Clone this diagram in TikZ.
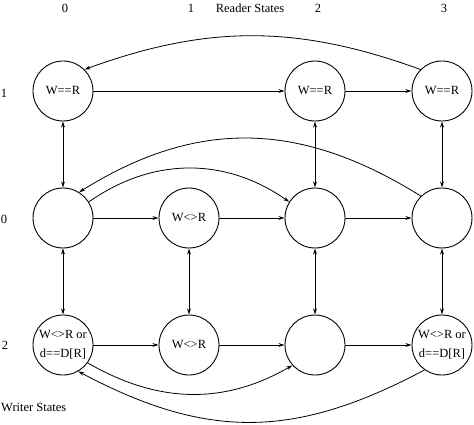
\documentclass[tikz,border=0pt]{standalone}
\usepackage{fontspec}
\setmainfont{Liberation Serif}
\usetikzlibrary{arrows.meta}
\begin{document}
\begin{tikzpicture}[x=1pt,y=1pt,
  st/.style={circle,draw,line width=0.9pt,minimum size=60pt,inner sep=0pt,font=\fontsize{12.5}{14}\selectfont,align=center},
  lbl/.style={font=\fontsize{12.5}{14}\selectfont,inner sep=0pt},
  arr/.style={line width=0.8pt,-{Stealth[length=6pt,width=3.8pt]}},
  barr/.style={line width=0.8pt,{Stealth[length=6pt,width=3.8pt]}-{Stealth[length=6pt,width=3.8pt]}}]
\useasboundingbox (0,0) rectangle (474,-425);
% column / row labels
\node[lbl] (c0) at (65,-8) {0};
\node[lbl] (c1) at (191,-8) {1};
\node[lbl] (rs) at (250,-8) {Reader States};
\node[lbl] (c2) at (318,-8) {2};
\node[lbl] (c3) at (444,-8) {3};
\node[lbl] (r1) at (4,-93) {1};
\node[lbl] (r0) at (4,-219) {0};
\node[lbl] (r2) at (5,-345) {2};
\node[lbl,anchor=west] (ws) at (1,-407) {Writer States};
% states
\node[st] (a1) at (63,-91) {W==R};
\node[st] (c21) at (315,-91) {W==R};
\node[st] (c31) at (442,-91) {W==R};
\node[st] (a0) at (63,-218) {};
\node[st] (b0) at (189,-218) {W<>R};
\node[st] (c20) at (315,-218) {};
\node[st] (d0) at (442,-218) {};
\node[st] (a2) at (63,-345) {W<>R or\\[5pt]d==D[R]};
\node[st] (b2) at (189,-345) {W<>R};
\node[st] (c22) at (315,-345) {};
\node[st] (d2) at (442,-345) {W<>R or\\[5pt]d==D[R]};
% row 1
\draw[arr] (a1) -- (c21);
\draw[arr] (c21) -- (c31);
\draw[arr] (c31.135) to[out=160,in=20] (a1.45);
% vertical
\draw[barr] (a1) -- (a0);
\draw[barr] (c21) -- (c20);
\draw[barr] (c31) -- (d0);
\draw[barr] (a0) -- (a2);
\draw[barr] (b0) -- (b2);
\draw[barr] (c20) -- (c22);
\draw[barr] (d0) -- (d2);
% row 0
\draw[arr] (a0) -- (b0);
\draw[arr] (b0) -- (c20);
\draw[arr] (c20) -- (d0);
\draw[arr] (a0.32) to[out=35,in=145] (c20.148);
\draw[arr] (d0.134) to[out=148,in=32,looseness=1.05] (a0.58);
% row 2
\draw[arr] (a2) -- (b2);
\draw[arr] (b2) -- (c22);
\draw[arr] (c22) -- (d2);
\draw[arr] (a2.-36) to[out=-30,in=-150] (c22.-138);
\draw[arr] (d2.-125) to[out=-152,in=-28,looseness=1.08] (a2.-60);
\end{tikzpicture}
\end{document}
